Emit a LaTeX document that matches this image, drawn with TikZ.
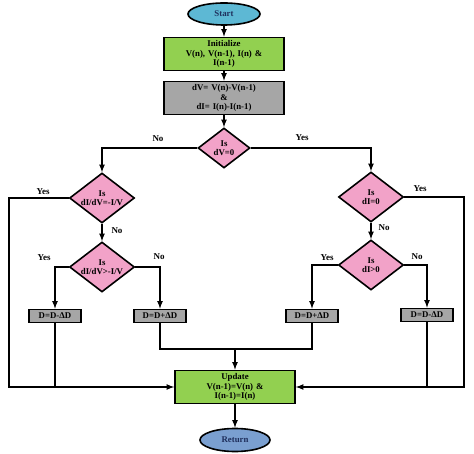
\documentclass[tikz,border=0pt]{standalone}
\usepackage{fontspec}
\setmainfont{Liberation Serif}
\usetikzlibrary{shapes.geometric}
\definecolor{startblue}{HTML}{5DB8D4}
\definecolor{returnblue}{HTML}{7A9FD0}
\definecolor{stepgreen}{HTML}{92D050}
\definecolor{calcgray}{HTML}{A6A6A6}
\definecolor{decpink}{HTML}{F2A2C8}
\definecolor{navytext}{HTML}{1F2F5C}
\begin{document}
\begin{tikzpicture}[x=1pt, y=-1pt,
    every node/.style={font=\fontsize{8.8}{9.6}\selectfont\bfseries},
    terminal/.style={ellipse, draw, line width=1.6pt, text=navytext, minimum width=72pt, minimum height=22pt, inner sep=0pt},
    block/.style={rectangle, draw, line width=1.6pt, text width=118pt, align=center, minimum height=33pt, inner sep=1pt},
    decision/.style={diamond, draw, line width=1.6pt, fill=decpink, aspect=1.3, align=center, inner xsep=-6pt, inner ysep=-2pt, minimum width=65pt, minimum height=50pt},
    duty/.style={rectangle, draw, line width=1.6pt, fill=calcgray, minimum width=52pt, minimum height=13pt, inner sep=0pt},
    line/.style={draw, line width=1.6pt, -latex},
    wire/.style={draw, line width=1.6pt},
    lbl/.style={font=\fontsize{9}{9}\selectfont\bfseries}
  ]
    \useasboundingbox (0,0) rectangle (474,454);

    \node [terminal, fill=startblue] (start) at (224,14) {Start};
    \node [block, fill=stepgreen] (init) at (224,54) {Initialize\\V(n), V(n-1), I(n) \&\\I(n-1)};
    \node [block, fill=calcgray] (diff) at (224,98) {dV= V(n)-V(n-1)\\\&\\dI= I(n)-I(n-1)};
    \node [decision, minimum width=52pt, minimum height=40pt] (isdvzero) at (224,148) {Is\\dV=0};
    \node [decision] (isinc) at (102,198) {Is\\dI/dV=-I/V};
    \node [decision] (isgreater) at (102,267) {Is\\dI/dV>-I/V};
    \node [decision] (isdizero) at (371,197) {Is\\dI=0};
    \node [decision] (isdipos) at (371,265) {Is\\dI>0};
    \node [duty] (decl) at (55,316) {D=D-ΔD};
    \node [duty] (incl) at (160,316) {D=D+ΔD};
    \node [duty] (incr) at (312,316) {D=D+ΔD};
    \node [duty] (decr) at (427,315) {D=D-ΔD};
    \node [block, fill=stepgreen] (update) at (235,387) {Update\\V(n-1)=V(n) \&\\I(n-1)=I(n)};
    \node [terminal, fill=returnblue, minimum width=70pt, minimum height=23pt] (return) at (235,440) {Return};

    \coordinate (leftrail) at (9,387);
    \coordinate (rightrail) at (464,387);
    \coordinate (join) at (235,349);

    \path [line] (start) -- (init);
    \path [line] (init) -- (diff);
    \path [line] (diff) -- (isdvzero);
    \path [line] (isdvzero.west) -| (isinc.north);
    \path [line] (isdvzero.east) -| (isdizero.north);
    \path [line] (isinc) -- (isgreater);
    \path [line] (isdizero) -- (isdipos);
    \path [line] (isinc.west) -| (leftrail) -- (update.west);
    \path [line] (isdizero.east) -| (rightrail) -- (update.east);
    \path [line] (isgreater.west) -| (decl.north);
    \path [line] (isgreater.east) -| (incl.north);
    \path [line] (isdipos.west) -| (incr.north);
    \path [line] (isdipos.east) -| (decr.north);
    \path [wire] (decl.south) -- (decl.south |- update.west);
    \path [wire] (decr.south) -- (decr.south |- update.east);
    \path [wire] (incl.south) |- (join) -| (incr.south);
    \path [line] (join) -- (update.north);
    \path [line] (update) -- (return);

    \node [lbl] (lno1) at (158,139) {No};
    \node [lbl] (lyes1) at (302,138) {Yes};
    \node [lbl] (lyes2) at (43,192) {Yes};
    \node [lbl] (lno2) at (117,231) {No};
    \node [lbl] (lyes3) at (44,258) {Yes};
    \node [lbl] (lno3) at (159,257) {No};
    \node [lbl] (lyes4) at (420,189) {Yes};
    \node [lbl] (lno4) at (384,228) {No};
    \node [lbl] (lyes5) at (327,258) {Yes};
    \node [lbl] (lno5) at (417,257) {No};
  \end{tikzpicture}
\end{document}
